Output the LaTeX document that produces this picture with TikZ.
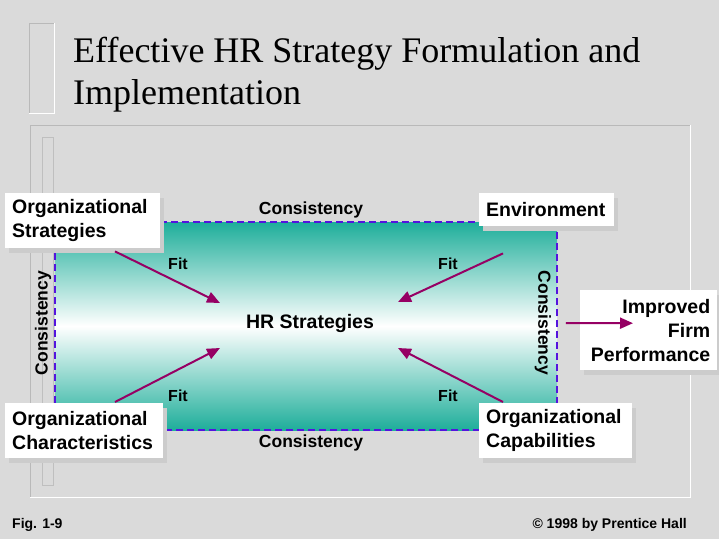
\documentclass[tikz,border=0pt]{standalone}
\usepackage{fontspec}
\setmainfont{Liberation Serif}
\setsansfont{Liberation Sans}
\usetikzlibrary{arrows.meta,calc,positioning,shadows}

\definecolor{marble}{RGB}{218,218,218}
\definecolor{fieldteal}{RGB}{30,174,154}
\definecolor{edgeviolet}{RGB}{84,20,222}
\definecolor{linkpurple}{RGB}{150,0,100}
\definecolor{shadowgray}{RGB}{204,204,204}

\newcommand{\lblfont}{\sffamily\bfseries\fontsize{19.5}{24}\selectfont}

\begin{document}
\begin{tikzpicture}[x=1pt,y=-1pt,>={Triangle[length=13pt,width=11pt]}]
\useasboundingbox (0,0) rectangle (719,539);

    \tikzstyle{factor}=[fill=white, font=\lblfont, align=left, anchor=north west,
      inner xsep=7pt, inner ysep=0pt, minimum height=55pt,
      drop shadow={shadow xshift=4pt, shadow yshift=-5pt, fill=shadowgray, opacity=1}];
    \tikzstyle{field}=[minimum width=502pt, minimum height=208pt, inner sep=0pt,
      draw=edgeviolet, line width=1.5pt, dash pattern=on 7pt off 4pt,
      top color=fieldteal, bottom color=fieldteal, middle color=white];
    \tikzstyle{cons}=[font=\sffamily\bfseries\fontsize{17.5}{20}\selectfont, inner sep=1pt];
    \tikzstyle{fitlbl}=[font=\sffamily\bfseries\fontsize{16}{18}\selectfont, inner sep=1pt];
    \tikzstyle{link}=[->, draw=linkpurple, fill=linkpurple, line width=2pt];

% slide background
\fill[marble] (0,0) rectangle (719,539);
\draw[gray!55] (29,113) -- (29,23) -- (54,23);
\draw[white] (54,23) -- (54,113) -- (29,113);
\draw[gray!55] (30,497) -- (30,125) -- (690,125);
\draw[white, line width=1pt] (690,125) -- (690,497) -- (30,497);
\draw[gray!50] (42,137) rectangle (53,485);

% title
\node[anchor=base west, align=left, inner sep=0pt, font=\fontsize{36}{42}\selectfont]
  (title) at (73,104) {Effective HR Strategy Formulation and\\Implementation};

% HR field
\node[field] (field) at (306,326) {};
\node[font=\lblfont] (hr) at ($(field.center)+(4,-3)$) {HR Strategies};

\node[cons] (constop) at (311,210) {Consistency};
\node[cons] (consbot) at (311,443) {Consistency};
\node[cons, rotate=90] (consleft) at (43,323) {Consistency};
\node[cons, rotate=-90] (consright) at (543,323) {Consistency};

\node[fitlbl] (fitnw) at (178,264) {Fit};
\node[fitlbl] (fitne) at (448,264) {Fit};
\node[fitlbl] (fitsw) at (178,396) {Fit};
\node[fitlbl] (fitse) at (448,396) {Fit};

% factors
\node[factor, text width=141pt] (strat) at (5,193) {Organizational\\Strategies};
\node[factor, text width=121pt, minimum height=33pt] (env) at (479,193) {Environment};
\node[factor, text width=144pt] (chars) at (5,403) {Organizational\\Characteristics};
\node[factor, text width=139pt] (caps) at (479,403) {Organizational\\Capabilities};
\node[factor, text width=123pt, align=right, minimum height=80pt] (perf) at (580,290) {Improved\\Firm\\Performance};

% fit arrows
\coordinate (tipnw) at ($(hr)+(-90,-20)$);
\coordinate (tipne) at ($(hr)+(88,-21)$);
\coordinate (tipsw) at ($(hr)+(-90,25)$);
\coordinate (tipse) at ($(hr)+(88,25)$);
\draw[link] ([xshift=110pt,yshift=-3pt]strat.south west) -- (tipnw);
\draw[link] ([xshift=24pt,yshift=-27pt]env.south west) -- (tipne);
\draw[link] ([xshift=110pt,yshift=1pt]chars.north west) -- (tipsw);
\draw[link] ([xshift=24pt,yshift=1pt]caps.north west) -- (tipse);
\draw[link] ([xshift=8pt,yshift=3pt]field.east) -- ([xshift=53pt,yshift=7pt]perf.west);

% footer
\node[anchor=base west, inner sep=0pt, font=\sffamily\bfseries\fontsize{14}{16}\selectfont]
  (fig) at (12,528) {Fig. 1-9};
\node[anchor=base east, inner sep=0pt, font=\sffamily\bfseries\fontsize{14}{16}\selectfont]
  (copyr) at (687,528) {© 1998 by Prentice Hall};
\end{tikzpicture}
\end{document}
